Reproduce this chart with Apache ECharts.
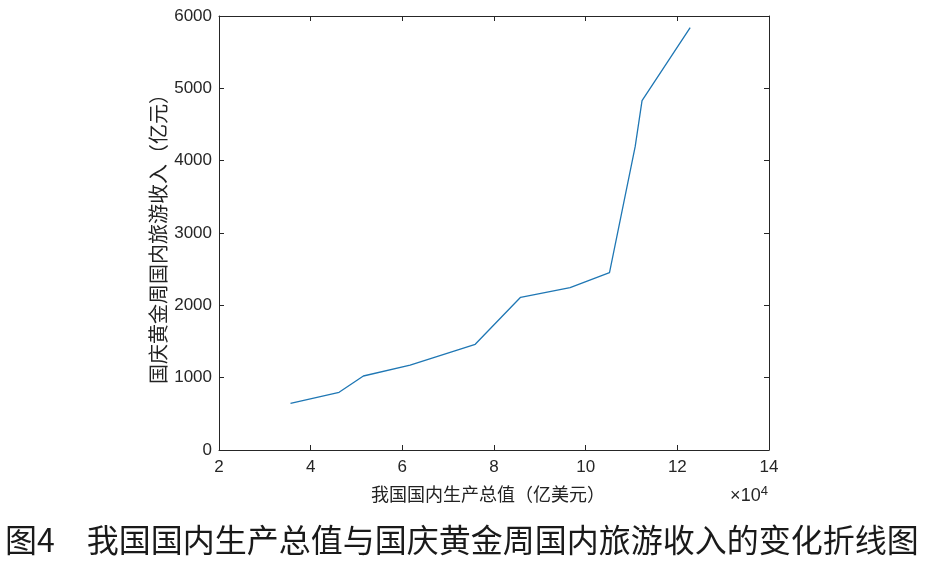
<!DOCTYPE html>
<html><head><meta charset="utf-8">
<script src="https://cdn.jsdelivr.net/npm/echarts@6/dist/echarts.min.js"></script>
<style>html,body{margin:0;padding:0;background:#fff}#c{width:934px;height:562px}</style>
</head><body><div id="c"></div>
<script>
const gdp = [3.56, 4.62, 5.15, 6.17, 7.59, 8.58, 9.66, 10.52, 11.08, 11.23, 12.28];
const revenue = [645, 798, 1023, 1175, 1461, 2111, 2244, 2452, 4194, 4830, 5839];
const xTicks = [2, 4, 6, 8, 10, 12, 14];
const yTicks = [0, 1000, 2000, 3000, 4000, 5000, 6000];
const xName = '我国国内生产总值（亿美元）';
const yName = '国庆黄金周国内旅游收入（亿元）';
const caption = '图4　我国国内生产总值与国庆黄金周国内旅游收入的变化折线图';

const axisColor = '#262626';
const numFont = '"Liberation Sans", Arial, sans-serif';
const cjkFont = '"Noto Sans CJK SC", sans-serif';

const chart = echarts.init(document.getElementById('c'), null, {renderer: 'canvas'});
const baseX = {
  type: 'value', min: xTicks[0], max: xTicks[xTicks.length - 1], interval: 2,
  splitLine: {show: false},
  axisLine: {show: true, onZero: false, lineStyle: {color: axisColor, width: 1}},
  axisTick: {show: true, inside: true, length: 5, lineStyle: {color: axisColor}}
};
const baseY = {
  type: 'value', min: yTicks[0], max: yTicks[yTicks.length - 1], interval: 1000,
  splitLine: {show: false},
  axisLine: {show: true, onZero: false, lineStyle: {color: axisColor, width: 1}},
  axisTick: {show: true, inside: true, length: 5, lineStyle: {color: axisColor}}
};
chart.setOption({
  animation: false,
  backgroundColor: '#fff',
  grid: {left: 219, right: 165, top: 16, bottom: 112, containLabel: false},
  xAxis: [
    Object.assign({}, baseX, {position: 'bottom',
      axisLabel: {show: true, color: axisColor, fontSize: 17, fontFamily: numFont, margin: 9,
        formatter: v => String(v)}}),
    Object.assign({}, baseX, {position: 'top', axisLabel: {show: false}})
  ],
  yAxis: [
    Object.assign({}, baseY, {position: 'left',
      axisLabel: {show: true, color: axisColor, fontSize: 17, fontFamily: numFont, margin: 7,
        formatter: v => String(v)}}),
    Object.assign({}, baseY, {position: 'right', axisLabel: {show: false}})
  ],
  series: [{
    type: 'line',
    data: gdp.map((g, i) => [g, revenue[i]]),
    showSymbol: false,
    symbol: 'none',
    lineStyle: {color: '#1f77b4', width: 1.3},
    itemStyle: {color: '#1f77b4'}
  }],
  graphic: [
    {type: 'text', x: 488, y: 494, style: {text: xName, font: '18px ' + cjkFont, fill: '#222', textAlign: 'center', textVerticalAlign: 'middle'}},
    {type: 'text', x: 158, y: 234, rotation: Math.PI / 2, style: {text: yName, font: '20px ' + cjkFont, fill: '#222', textAlign: 'center', textVerticalAlign: 'middle'}},
    {type: 'text', x: 749, y: 496, style: {
      text: '{a|×10}{b|4}', textAlign: 'center', textVerticalAlign: 'middle',
      rich: {a: {fontSize: 18, fontFamily: numFont, fill: axisColor, color: axisColor},
             b: {fontSize: 13, fontFamily: numFont, fill: axisColor, color: axisColor, verticalAlign: 'top', padding: [0, 0, 10, 0]}}
    }},
    {type: 'text', x: 5, y: 540, style: {text: caption, font: '32px ' + cjkFont, fill: '#1a1a1a', textAlign: 'left', textVerticalAlign: 'middle'}}
  ]
});
</script></body></html>
